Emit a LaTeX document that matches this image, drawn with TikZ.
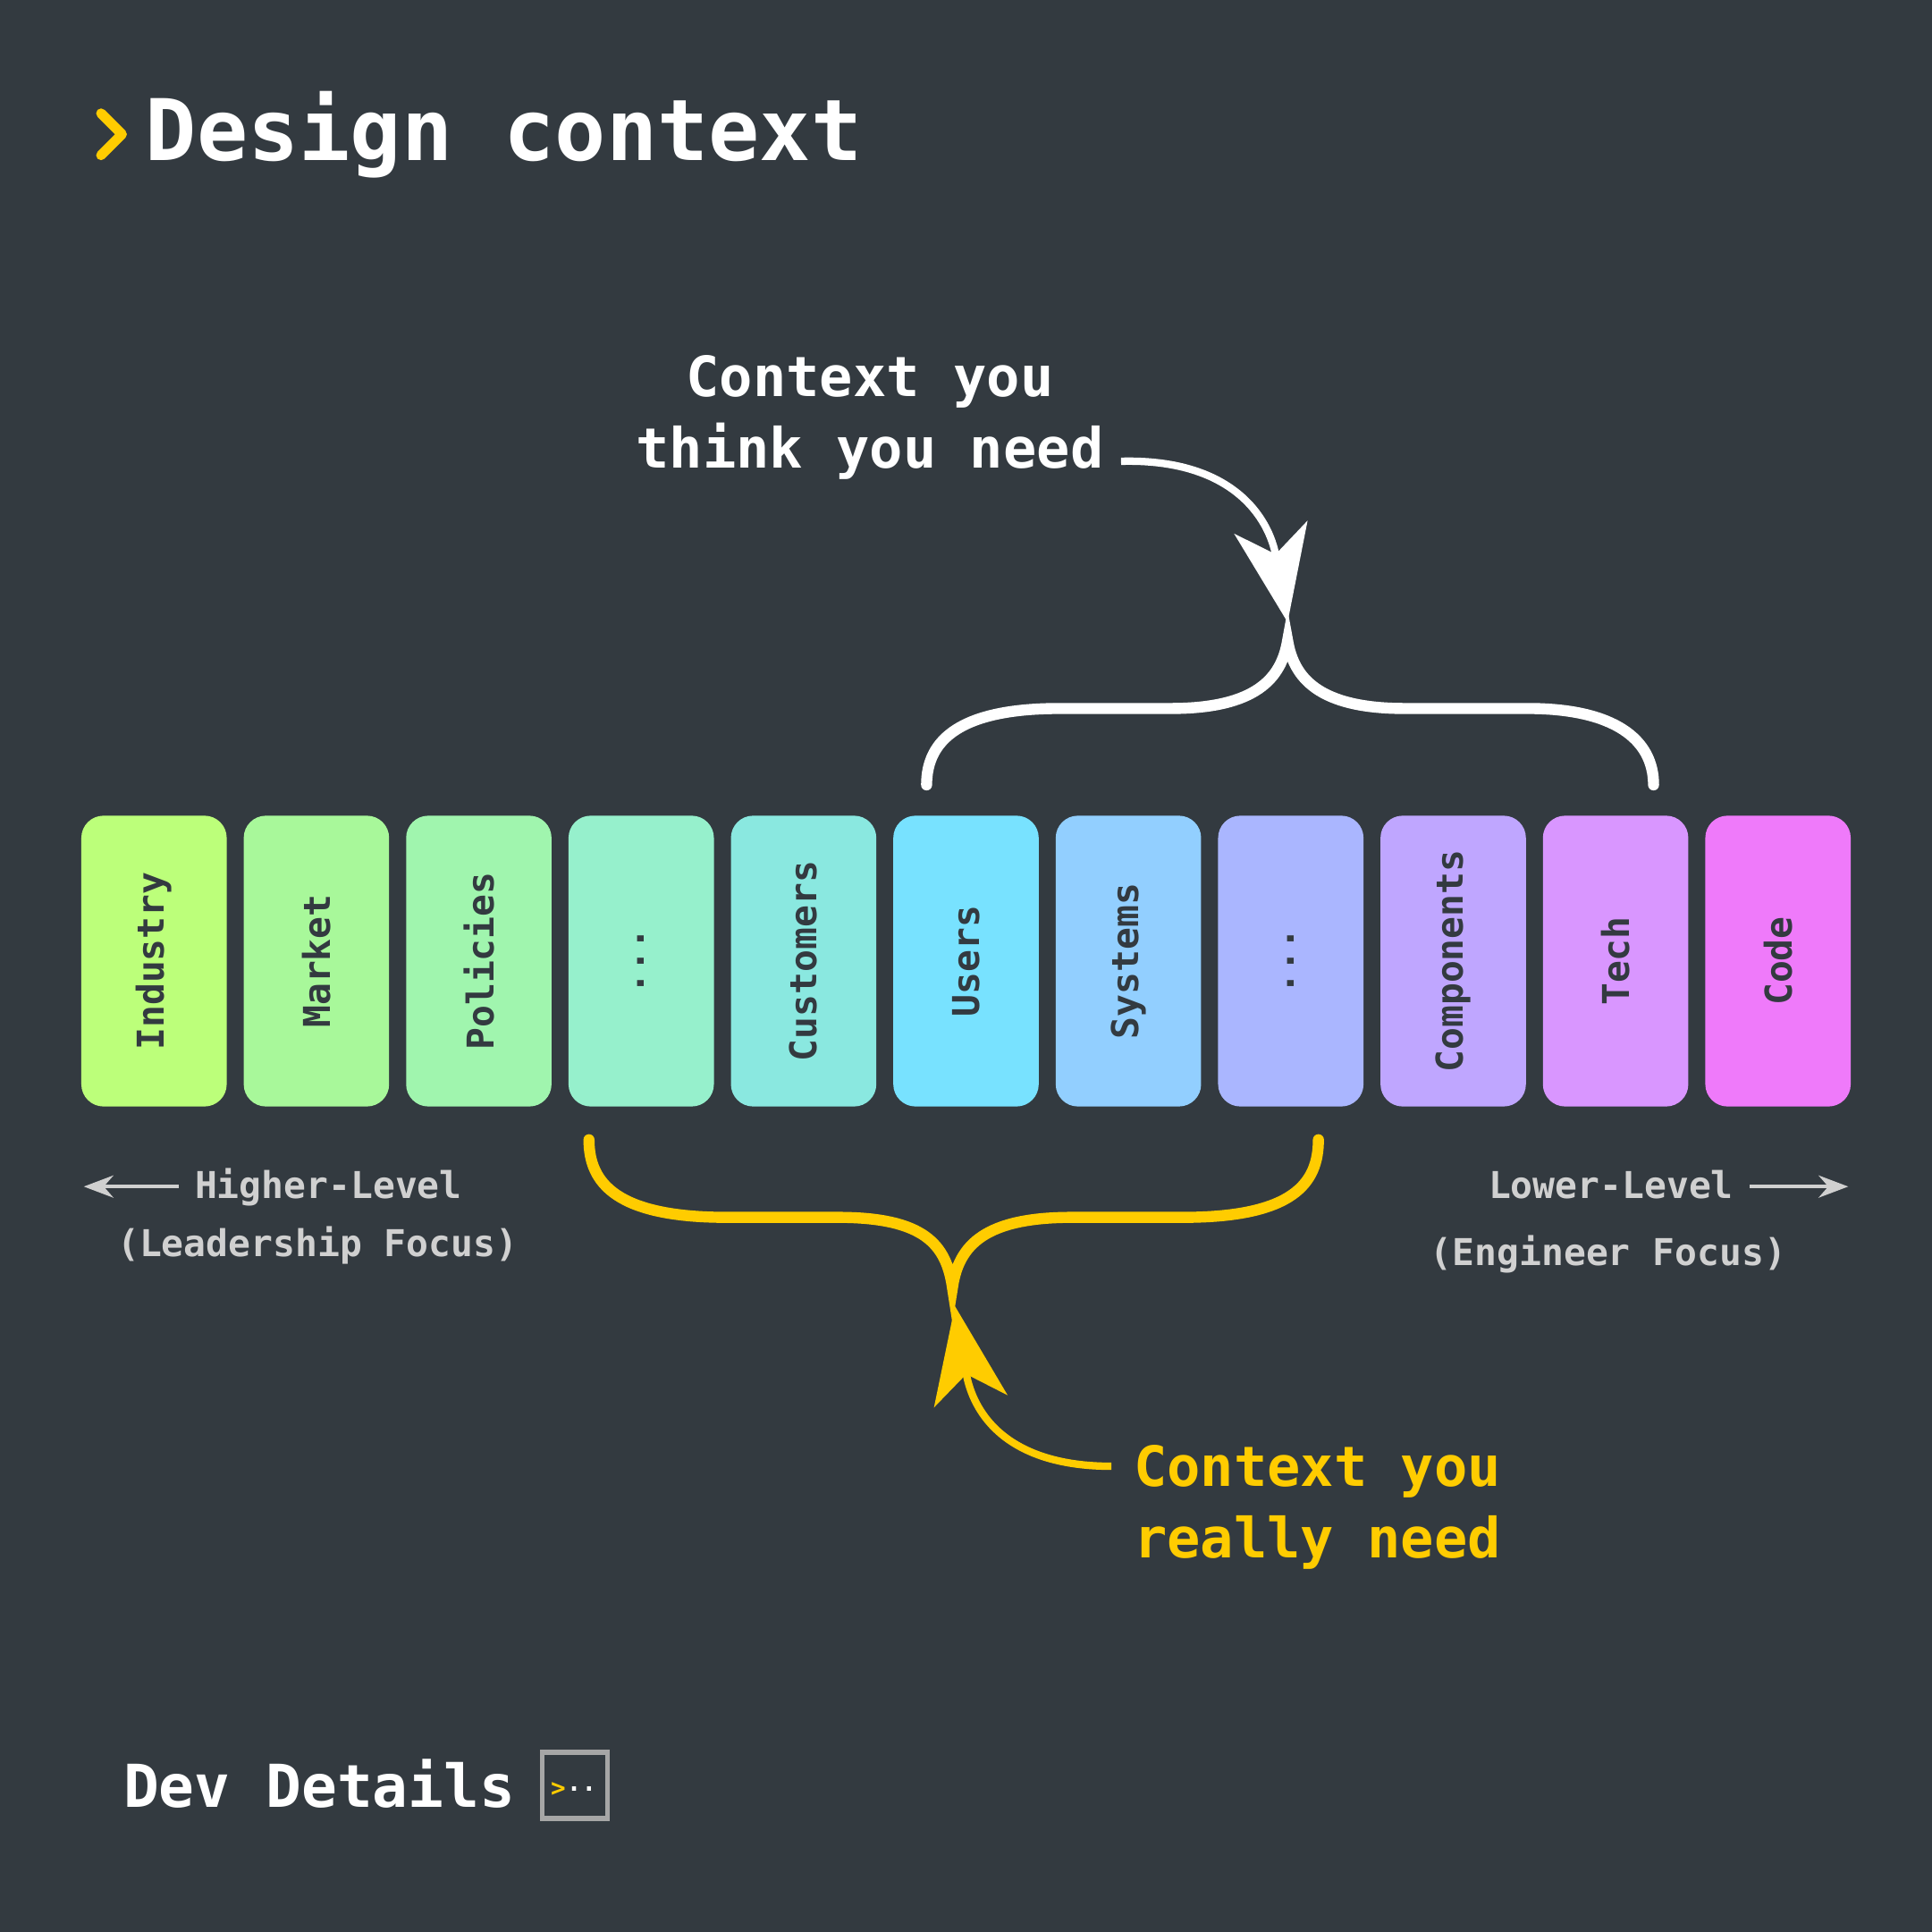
\documentclass[tikz,border=0pt]{standalone}
\usepackage{fontspec}
\setmainfont{DejaVu Sans Mono}
\usetikzlibrary{arrows.meta}
\definecolor{bg}{HTML}{333A40}
\definecolor{yel}{HTML}{FFCC00}
\definecolor{txt}{HTML}{333A40}
\definecolor{gr}{HTML}{D0D0D0}
\definecolor{c1}{HTML}{BCFF7A}\definecolor{c2}{HTML}{A8F89A}\definecolor{c3}{HTML}{A0F5AE}
\definecolor{c4}{HTML}{96F0CC}\definecolor{c5}{HTML}{8AE8E0}\definecolor{c6}{HTML}{78E2FF}
\definecolor{c7}{HTML}{92CFFF}\definecolor{c8}{HTML}{AAB6FF}\definecolor{c9}{HTML}{BFA6FF}
\definecolor{c10}{HTML}{D996FF}\definecolor{c11}{HTML}{EF7AFA}
\tikzset{
 col/.style={fill=#1,rounded corners=18pt,minimum width=118pt,minimum height=236pt,inner sep=0pt},
 lab/.style={rotate=90,font=\fontsize{30}{30}\selectfont\bfseries,text=txt},
 gtext/.style={text=gr,font=\fontsize{30}{30}\selectfont\bfseries,inner sep=0pt},
}
\begin{document}
\begin{tikzpicture}[x=1pt,y=-1pt]
\fill[bg] (0,0) rectangle (1568,1568);
\useasboundingbox (0,0) rectangle (1568,1568);
% title
\draw[yel,line width=8pt,line cap=round,line join=round] (82,92) -- (99,109) -- (82,126);
\node[anchor=base west,inner sep=0pt,text=white,font=\fontsize{69}{69}\selectfont\bfseries] (title) at (118,130) {Design context};
% columns
\foreach \i/\t in {1/Industry,2/Market,3/Policies,4/{...},5/Customers,6/Users,7/Systems,8/{...},9/Components,10/Tech,11/Code}{
  \node[col=c\i] (b\i) at ({125+131.8*(\i-1)},780) {};
  \node[lab] at (b\i) {\t};
}
% white brace
\draw[white,line width=9pt,line cap=round]
 (752,637) .. controls (752,600) and (780,575) .. (860,575) -- (950,575)
 .. controls (1020,575) and (1040,550) .. (1045,520)
 .. controls (1050,550) and (1070,575) .. (1140,575) -- (1240,575)
 .. controls (1310,575) and (1342,600) .. (1342,637);
\coordinate (wtip) at (1045,505);
\node[anchor=base,text=white,font=\fontsize{45}{45}\selectfont\bfseries,inner sep=0pt] (c1t) at (706,322) {Context you};
\node[anchor=base,text=white,font=\fontsize{45}{45}\selectfont\bfseries,inner sep=0pt] (c2t) at (706,380) {think you need};
\draw[white,line width=6pt,-{Stealth[length=78pt,width=60pt,inset=22pt]}]
 ([xshift=14pt,yshift=-8pt]c2t.east) .. controls (1000,372) and (1030,420) .. (wtip);
% yellow brace
\draw[yel,line width=9pt,line cap=round]
 (478,925) .. controls (478,960) and (500,988) .. (590,988) -- (680,988)
 .. controls (750,988) and (768,1010) .. (773,1045)
 .. controls (778,1010) and (800,988) .. (870,988) -- (960,988)
 .. controls (1050,988) and (1070,960) .. (1070,925);
\coordinate (ytip) at (775,1060);
\node[anchor=base west,text=yel,font=\fontsize{45}{45}\selectfont\bfseries,inner sep=0pt] (y1) at (920,1206) {Context you};
\node[anchor=base west,text=yel,font=\fontsize{45}{45}\selectfont\bfseries,inner sep=0pt] (y2) at (920,1264) {really need};
\coordinate (ys) at (902,1190);
\draw[yel,line width=6pt,-{Stealth[length=78pt,width=60pt,inset=22pt]}]
 (ys) .. controls (820,1190) and (790,1150) .. (ytip);
% side labels
\node[gtext,anchor=base west] (hl) at (158,973) {Higher-Level};
\coordinate (hla) at (68,963);
\draw[gr,line width=3pt,-{Stealth[length=24pt,width=18pt]}] (145,963) -- (hla);
\node[gtext,anchor=base west] (lf) at (95,1020) {(Leadership Focus)};
\node[gtext,anchor=base east] (ll) at (1407,973) {Lower-Level};
\coordinate (lla) at (1500,963);
\draw[gr,line width=3pt,-{Stealth[length=24pt,width=18pt]}] (1420,963) -- (lla);
\node[gtext,anchor=base east] (ef) at (1450,1027) {(Engineer Focus)};
% footer
\node[anchor=base west,inner sep=0pt,text=white,font=\fontsize{48}{48}\selectfont\bfseries] (dev) at (100,1467) {Dev Details};
\draw[gray!70,line width=4pt] (440,1422) rectangle (493,1476);
\node[text=yel,font=\fontsize{20}{20}\selectfont\bfseries,inner sep=0pt] (ic) at (453,1452) {>};
\node[text=white,font=\fontsize{20}{20}\selectfont\bfseries,inner sep=0pt] (id) at (472,1452) {..};
\end{tikzpicture}
\end{document}
